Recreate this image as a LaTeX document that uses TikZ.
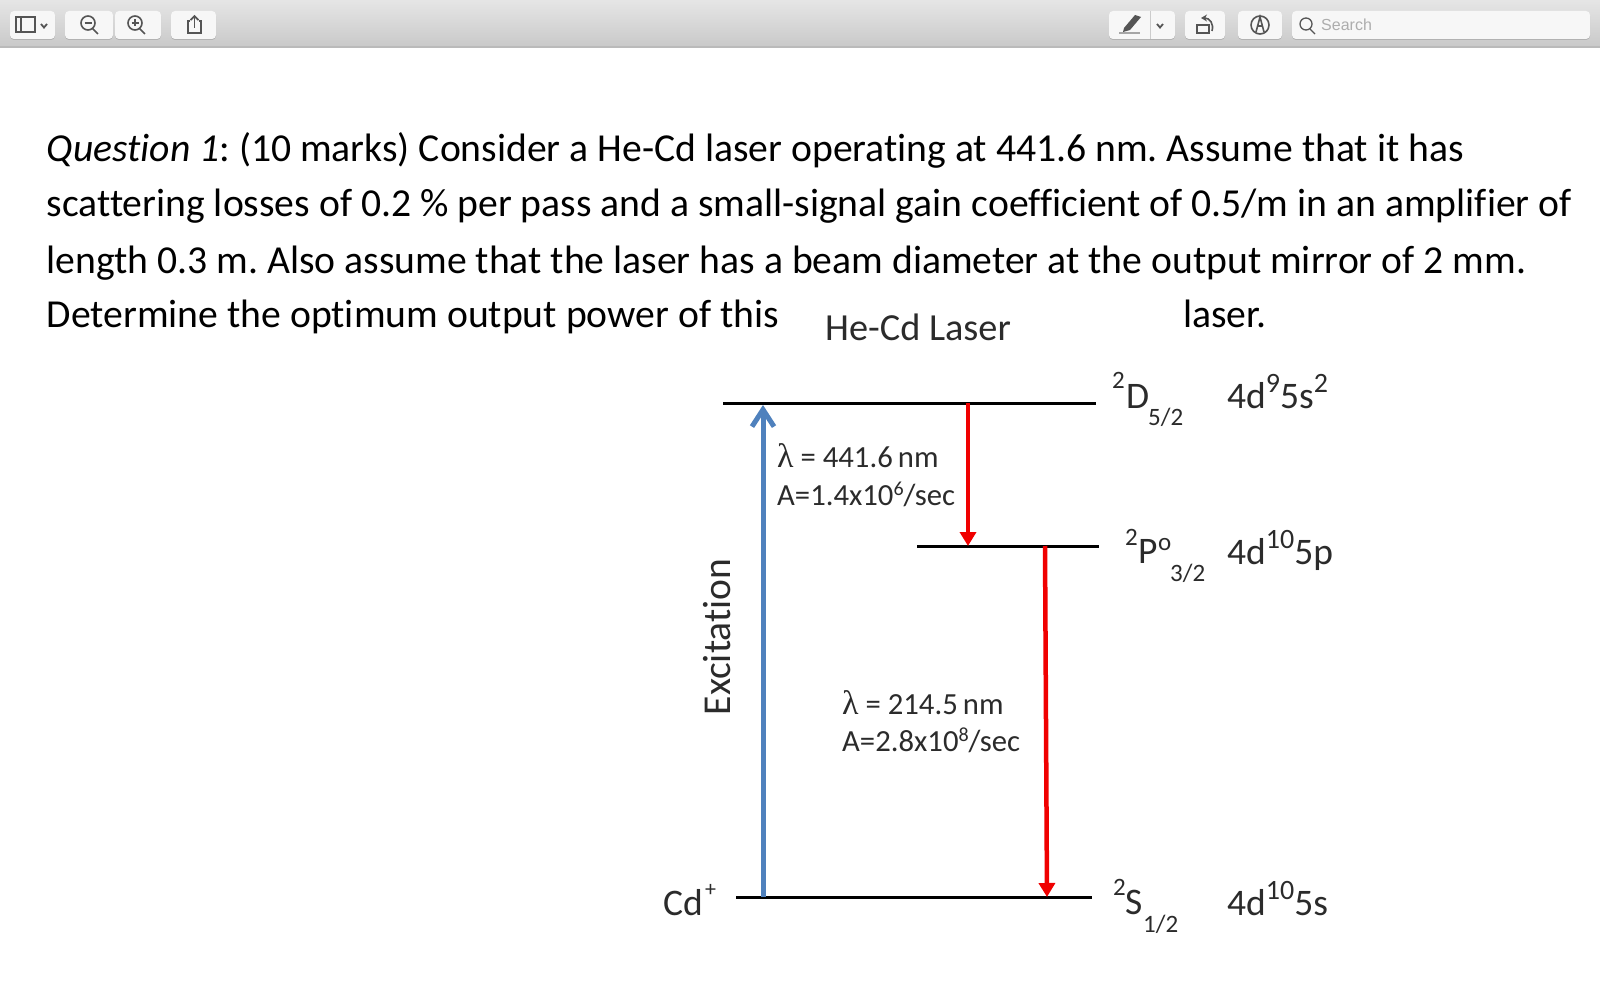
\documentclass[tikz,border=0pt]{standalone}
\usepackage{fontspec}
\setmainfont{Carlito}[Ligatures=NoCommon]
\newfontfamily\lamfont{Liberation Serif}
\newfontfamily\uifont{Liberation Sans}
\usetikzlibrary{arrows.meta}
\definecolor{bluepump}{HTML}{4F81BD}
\definecolor{redline}{HTML}{F00000}
\definecolor{figtext}{HTML}{2B2B2B}
\definecolor{icongray}{HTML}{555555}
\newcommand{\upsc}[1]{\raisebox{16pt}{\fontsize{28}{28}\selectfont #1}}
\newcommand{\lam}{{\lamfont\fontsize{34}{34}\selectfont\char"03BB}}
\tikzset{
bodyline/.style={anchor=base west,inner sep=0pt,font=\frenchspacing\fontsize{39.65}{42}\selectfont},
figlabel/.style={anchor=base west,inner sep=0pt,text=figtext,font=\fontsize{37.5}{40}\selectfont},
ratelabel/.style={anchor=base west,inner sep=0pt,text=figtext,font=\fontsize{30.7}{33}\selectfont},
smalllabel/.style={anchor=base west,inner sep=0pt,text=figtext,font=\fontsize{25}{28}\selectfont},
level/.style={line width=3pt,black},
pump/.style={line width=5pt,bluepump,-{Straight Barb[length=17pt,width=22pt,line width=5pt]}},
decay/.style={line width=4.5pt,redline,-{Triangle[length=14pt,width=16pt]}},
tbbutton/.style={fill=white!97!black,rounded corners=4pt},
icon/.style={icongray,line width=1.6pt}
}
\begin{document}
\begin{tikzpicture}[x=1pt,y=-1pt]
\useasboundingbox (0,0) rectangle (1600,1000);
\fill[white] (0,0) rectangle (1600,1000);

% toolbar
\shade[top color=black!10,bottom color=black!21] (0,0) rectangle (1600,46);
\fill[black!27] (0,46) rectangle (1600,48);
\foreach \xa/\xb in {10/55,65/113,115/161,171/216,1109/1175,1185/1225,1238/1282,1292/1590}{
\fill[tbbutton,black!30] (\xa,12) rectangle (\xb,40);
\fill[tbbutton] (\xa,11) rectangle (\xb,39);
}
\draw[black!20] (1150,11)--(1150,39);
\draw[icon] (16,17) rectangle (35,32);
\draw[icon] (21,17)--(21,32);
\foreach \x in {40,1156}{
\draw[icon,line width=1.8pt] (\x+1,24)--(\x+4,27.5)--(\x+7,24);
}
\foreach \x in {88,135}{
\draw[icon] (\x,23) circle (7);
\draw[icon] (\x+4.5,28.5)--(\x+10,34);
\draw[icon] (\x-3.5,23)--(\x+3.5,23);
}
\draw[icon] (135,19.5)--(135,26.5);
\draw[icon] (190,21)--(188,21)--(188,33)--(201,33)--(201,21)--(199,21);
\draw[icon,-{Straight Barb[length=4pt,width=8pt]}] (194.5,28)--(194.5,15);
\fill[icongray] (1135,15)--(1141,17)--(1130,30)--(1123,32)--(1124,28)--cycle;
\draw[black!35,line width=1.5pt] (1119,33)--(1140,33);
\draw[icon] (1197,25) rectangle (1209,33);
\draw[icon,-{Stealth[length=6pt,width=7pt]}] (1212,31) .. controls (1214,24) and (1210,18) .. (1201,18);
\draw[icon] (1260,25) circle (9);
\draw[icon] (1256,32)--(1260,17)--(1264,32);
\draw[icon] (1257,26)--(1263,26);
\draw[icon,line width=1.3pt] (1306,24) circle (6);
\draw[icon,line width=1.3pt] (1310,29)--(1315,34);
\node[anchor=base west,inner sep=0pt,text=black!32,font=\uifont\fontsize{16}{18}\selectfont] (searchbox) at (1321,31) {Search};

% question text
\node[bodyline] (lineone) at (46.5,162) {\textit{Question 1}: (10 marks) Consider a He-Cd laser operating at 441.6 nm. Assume that it has};
\node[bodyline] (linetwo) at (46.5,217) {scattering losses of 0.2 \% per pass and a small-signal gain coefficient of 0.5/m in an amplifier of};
\node[bodyline] (linethree) at (46.5,273) {length 0.3 m. Also assume that the laser has a beam diameter at the output mirror of 2 mm.};
\node[bodyline] (linefour) at (46.5,327) {Determine the optimum output power of this};
\node[bodyline] (linefourend) at (1183,327) {laser.};

% energy levels
\coordinate (dleft) at (723,403);
\coordinate (dright) at (1096,403);
\coordinate (pleft) at (917,546);
\coordinate (pright) at (1099,546);
\coordinate (sleft) at (736,897);
\coordinate (sright) at (1092,897);
\draw[level] (dleft)--(dright);
\draw[level] (pleft)--(pright);
\draw[level] (sleft)--(sright);

% transitions
\coordinate (pumpfrom) at (763,897);
\coordinate (pumpto) at (763,405);
\coordinate (bluefrom) at (968,403);
\coordinate (blueto) at (968,546);
\coordinate (uvfrom) at (1045,546);
\coordinate (uvto) at (1047,897);
\draw[pump] (pumpfrom)--(pumpto);
\draw[decay] (bluefrom)--(blueto);
\draw[decay] (uvfrom)--(uvto);

% labels
\node[figlabel,font=\fontsize{38.3}{41}\selectfont] (title) at (825,340) {He-Cd Laser};
\node[figlabel,anchor=base,rotate=90,font=\fontsize{39.5}{42}\selectfont] (excite) at (730,637) {Excitation};
\node[ratelabel] (lamblue) at (777,467) {\lam\ = 441.6\,nm};
\node[ratelabel] (rateblue) at (777,505) {A=1.4x10\raisebox{10pt}{\fontsize{20}{20}\selectfont 6}/sec};
\node[ratelabel] (lamuv) at (842,714) {\lam\ = 214.5\,nm};
\node[ratelabel] (rateuv) at (842,751) {A=2.8x10\raisebox{10pt}{\fontsize{20}{20}\selectfont 8}/sec};

\node[figlabel] (cdion) at (663,915) {Cd};
\node[smalllabel,font=\fontsize{22}{24}\selectfont] (cdplus) at (705,896) {+};

\node[smalllabel] (dtwo) at (1112,388) {2};
\node[figlabel] (dterm) at (1126,408) {D};
\node[smalllabel] (dsub) at (1148,425) {5/2};
\node[figlabel] (dconf) at (1227,408) {4d\upsc{9}5s\upsc{2}};

\node[smalllabel] (ptwo) at (1125,545) {2};
\node[figlabel] (pterm) at (1138,563) {P};
\node[smalllabel] (pdeg) at (1158,550) {o};
\node[smalllabel] (psub) at (1170,581) {3/2};
\node[figlabel] (pconf) at (1227,564) {4d\upsc{10}5p};

\node[smalllabel] (stwo) at (1113,895) {2};
\node[figlabel] (sterm) at (1125,914) {S};
\node[smalllabel] (ssub) at (1143,932) {1/2};
\node[figlabel] (sconf) at (1227,915) {4d\upsc{10}5s};
\end{tikzpicture}
\end{document}
